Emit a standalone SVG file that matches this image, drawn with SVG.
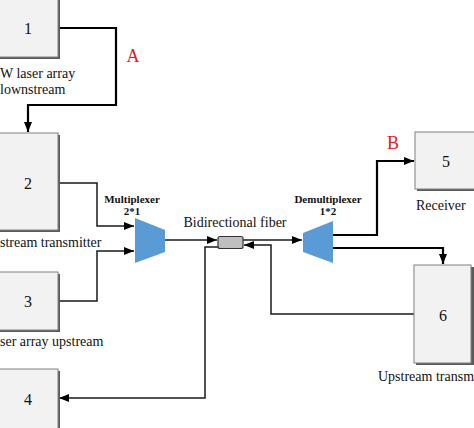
<svg xmlns="http://www.w3.org/2000/svg" width="474" height="428" viewBox="0 0 474 428">
<style>
.box{fill:#f2f2f2;stroke:#808080;stroke-width:1}
.sh{fill:#5a5a5a}
.num{font-family:"Liberation Serif",serif;font-size:16px;text-anchor:middle;fill:#111}
.lbl{font-family:"Liberation Serif",serif;font-size:14px;fill:#111}
.bold{font-family:"Liberation Serif",serif;font-size:11px;font-weight:bold;text-anchor:middle;fill:#111}
.red{font-family:"Liberation Serif",serif;font-size:18px;fill:#e0201e;text-anchor:middle}
.ln{fill:none;stroke:#1a1a1a;stroke-width:1.5}
.thk{fill:none;stroke:#000;stroke-width:2.2}
.dev{fill:#5b9bd5}
</style>
<defs>
<marker id="ah" viewBox="0 0 10 8" refX="10" refY="4" markerWidth="10" markerHeight="8" markerUnits="userSpaceOnUse" orient="auto">
<path d="M0,0 L10,4 L0,8 Z" fill="#000"/>
</marker>
</defs>
<rect width="474" height="428" fill="#fff"/>
<g id="connectors">
<path class="thk" d="M58,28 H116 V105 H28 V132" marker-end="url(#ah)"/>
<path class="ln" d="M58,183 H97 V226 H134" marker-end="url(#ah)"/>
<path class="ln" d="M58,301 H97 V251 H134" marker-end="url(#ah)"/>
<path class="ln" d="M165,240 H217" marker-end="url(#ah)"/>
<path class="ln" d="M243,240 H302" marker-end="url(#ah)"/>
<path class="ln" d="M218,247 H205 V398 H59" marker-end="url(#ah)"/>
<path class="ln" d="M414,314 H271 V245 H244" marker-end="url(#ah)"/>
<path class="thk" d="M333,235 H377 V161 H414" marker-end="url(#ah)"/>
<path class="thk" d="M333,248 H443 V264" marker-end="url(#ah)"/>
</g>
<g id="node1">
<rect class="sh" x="-4" y="-4" width="64" height="63"/>
<rect class="box" x="-6" y="-6" width="64" height="63"/>
<text class="num" x="28" y="34">1</text>
<text class="lbl" x="0" y="78">W laser array</text>
<text class="lbl" x="0" y="94">lownstream</text>
</g>
<g id="node2">
<rect class="sh" x="-4" y="135" width="64" height="97"/>
<rect class="box" x="-6" y="133" width="64" height="97"/>
<text class="num" x="28" y="189">2</text>
<text class="lbl" x="0" y="247">stream transmitter</text>
</g>
<g id="node3">
<rect class="sh" x="-4" y="274" width="64" height="58"/>
<rect class="box" x="-6" y="272" width="64" height="58"/>
<text class="num" x="28" y="307">3</text>
<text class="lbl" x="0" y="346">ser array upstream</text>
</g>
<g id="node4">
<rect class="sh" x="-4" y="371" width="64" height="70"/>
<rect class="box" x="-6" y="369" width="64" height="70"/>
<text class="num" x="28" y="405">4</text>
</g>
<g id="node5">
<rect class="sh" x="417" y="134" width="64" height="57"/>
<rect class="box" x="415" y="132" width="64" height="57"/>
<text class="num" x="446" y="167">5</text>
<text class="lbl" x="416" y="210">Receiver</text>
</g>
<g id="node6">
<rect class="sh" x="416" y="267" width="58" height="98"/>
<rect class="box" x="414" y="265" width="57" height="98"/>
<text class="num" x="443" y="321">6</text>
<text class="lbl" x="378" y="381">Upstream transm</text>
</g>
<g id="mux">
<polygon class="dev" points="135,218 165,230 165,252 135,263"/>
<text class="bold" x="132" y="203">Multiplexer</text>
<text class="bold" x="132" y="215">2*1</text>
</g>
<g id="coupler">
<rect x="218" y="236.5" width="25" height="12" rx="2" fill="#bfbfbf" stroke="#333" stroke-width="1.2"/>
<text class="lbl" x="235" y="227" text-anchor="middle">Bidirectional fiber</text>
</g>
<g id="demux">
<polygon class="dev" points="303,233 333,221 333,263 303,252"/>
<text class="bold" x="328" y="203">Demultiplexer</text>
<text class="bold" x="328" y="215">1*2</text>
</g>
<text class="red" x="133" y="62">A</text>
<text class="red" x="393" y="149">B</text>
</svg>
